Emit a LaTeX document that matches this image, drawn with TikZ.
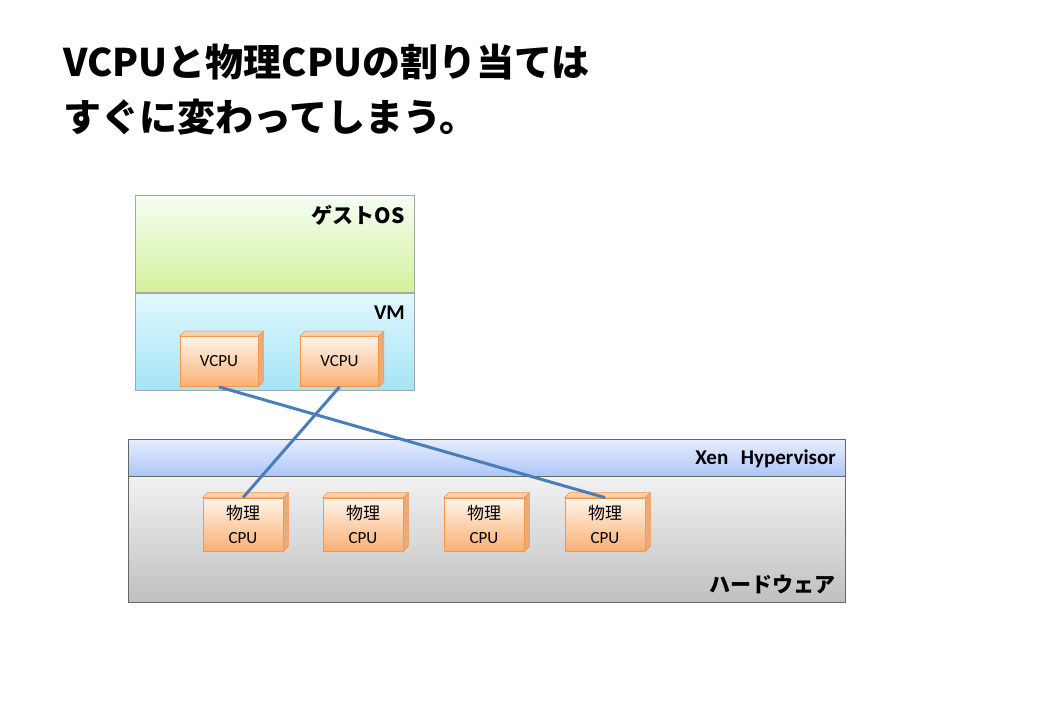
\documentclass[tikz,border=0pt]{standalone}
\usepackage{fontspec}
\setmainfont{Carlito}
\newfontfamily\cjk{Noto Sans CJK JP}
\usetikzlibrary{calc}
\definecolor{lnk}{HTML}{4A7EBB}
\definecolor{ocl}{HTML}{F79646}
\tikzset{
  cube/.style={draw=ocl, line width=0.8pt, top color=orange!8, bottom color=ocl!75, minimum width=78pt, minimum height=50pt, inner sep=0pt, font=\fontsize{17}{19}\selectfont, align=center},
  lbl/.style={font=\bfseries\fontsize{21}{23}\selectfont, anchor=north east, inner sep=0pt},
}
\newcommand\cubedepth[1]{%
  \fill[ocl!45, draw=ocl, line width=0.6pt] (#1.north west) -- ++(5pt,5pt) -- ($(#1.north east)+(5pt,5pt)$) -- (#1.north east) -- cycle;
  \fill[ocl!90!black!70, draw=ocl, line width=0.6pt] (#1.north east) -- ++(5pt,5pt) -- ($(#1.south east)+(5pt,5pt)$) -- (#1.south east) -- cycle;}
\begin{document}
\begin{tikzpicture}[x=1pt,y=-1pt]
\useasboundingbox (0,0) rectangle (1040,720);
\node[anchor=north west, inner sep=0pt, align=left, font=\cjk\bfseries\fontsize{38}{55}\selectfont] (title) at (63,44) {VCPUと物理CPUの割り当ては\\すぐに変わってしまう。};
% guest OS
\node[draw=black!35, line width=0.6pt, top color=green!4!white, bottom color={rgb,255:red,211;green,240;blue,154}, minimum width=279pt, minimum height=97pt, inner sep=0pt, anchor=north west] (guest) at (135,195) {};
\node[lbl] (gl) at (405,205) {\cjk\bfseries ゲストOS};
\node[draw=black!35, line width=0.6pt, top color={rgb,255:red,224;green,248;blue,253}, bottom color={rgb,255:red,165;green,228;blue,245}, minimum width=279pt, minimum height=97pt, inner sep=0pt, anchor=north west] (vm) at (135,293) {};
\node[lbl] (vml) at (405,306) {VM};
% hardware
\node[draw=black!60, line width=0.6pt, top color={rgb,255:red,242;green,242;blue,242}, bottom color={rgb,255:red,192;green,192;blue,192}, minimum width=717pt, minimum height=126pt, inner sep=0pt, anchor=north west] (hw) at (128,476) {};
\node[draw=black!60, line width=0.6pt, top color={rgb,255:red,230;green,237;blue,253}, bottom color={rgb,255:red,172;green,198;blue,248}, minimum width=717pt, minimum height=37pt, inner sep=0pt, anchor=north west] (xen) at (128,439) {};
\node[lbl] (xl) at (836,450) {Xen\hspace{0.6em}Hypervisor};
\node[lbl, anchor=south east] (hl) at (836,594) {\cjk\bfseries ハードウェア};
% cubes
\node[cube] (v1) at (219,361.5) {VCPU}; \cubedepth{v1}
\node[cube] (v2) at (339.5,361.5) {VCPU}; \cubedepth{v2}
\foreach \i/\x in {1/243,2/363,3/484,4/605}{
  \node[cube, minimum width=80pt, minimum height=53pt] (p\i) at (\x,524.5) {{\cjk 物理}\\[5pt]CPU}; \cubedepth{p\i}
}
\draw[lnk, line width=3pt] (v1.south) -- (p4.north);
\draw[lnk, line width=3pt] (v2.south) -- (p1.north);
\end{tikzpicture}
\end{document}
